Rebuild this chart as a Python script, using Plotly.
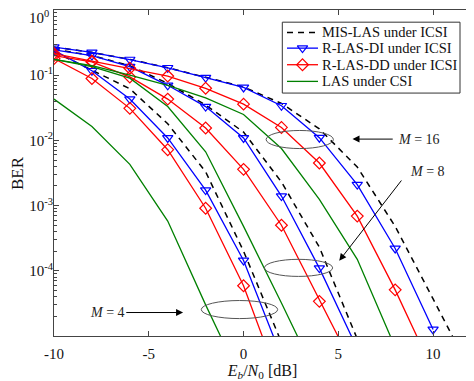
import plotly.graph_objects as go

# Eb/N0 grid (dB)
snr = [-10, -8, -6, -4, -2, 0, 2, 4, 6, 8, 10, 12]

# M = 4
mis_m4 = [0.23, 0.12, 0.062, 0.018, 3.3e-3, 2.0e-4, 8e-6]
di_m4 = [0.24, 0.117, 0.043, 0.0109, 1.73e-3, 1.44e-4, 4.8e-6]
dd_m4 = [0.18, 0.089, 0.031, 7.2e-3, 9.1e-4, 5.9e-5, 1.6e-6]
las_m4 = [0.043, 0.0163, 4.3e-3, 5.8e-4, 3.0e-5, 1.8e-6]

# M = 8
mis_m8 = [0.25, 0.2, 0.14, 0.075, 0.035, 0.0134, 2.3e-3, 2.3e-4, 9e-6]
di_m8 = [0.245, 0.2, 0.135, 0.07, 0.033, 0.0109, 1.4e-3, 1.1e-4, 6.4e-6]
dd_m8 = [0.2, 0.16, 0.094, 0.043, 0.0155, 3.6e-3, 5.0e-4, 3.4e-5, 2.6e-6]
las_m8 = [0.175, 0.135, 0.09, 0.033, 6.7e-3, 4.8e-4, 3.2e-5, 2e-6]

# M = 16
mis_m16 = [0.27, 0.224, 0.175, 0.13, 0.093, 0.066, 0.037, 0.015, 3.9e-3, 4.8e-4, 3.7e-5, 2.8e-6]
di_m16 = [0.27, 0.224, 0.174, 0.13, 0.092, 0.065, 0.034, 0.011, 2.1e-3, 2.2e-4, 1.26e-5]
dd_m16 = [0.215, 0.164, 0.128, 0.097, 0.063, 0.036, 0.0158, 4.5e-3, 6.9e-4, 5.1e-5, 2.9e-6]
las_m16 = [0.175, 0.14, 0.1, 0.07, 0.045, 0.025, 7.5e-3, 1.25e-3, 1.5e-4, 6.7e-6]

legend_names = ["MIS-LAS under ICSI", "R-LAS-DI under ICSI", "R-LAS-DD under ICSI", "LAS under CSI"]

x_ticks = [-10, -5, 0, 5, 10]
x_ticktext = ["-10", "-5", "0", "5", "10"]
y_ticks = [0.1, 0.01, 1e-3, 1e-4]
y_ticktext = ["10<sup>-1</sup>", "10<sup>-2</sup>", "10<sup>-3</sup>", "10<sup>-4</sup>"]
y_top_label = "10<sup>0</sup>"

FONT = "Liberation Serif, Times New Roman, serif"
BLUE = "#0000ff"
RED = "#ff0000"
GREEN = "#008000"
AXC = "#444444"

# page is offset by the browser's 8px body margin; plot-area frame in page pixels
OFF = 8
L, R, T, B = 54, 471, 9.5, 336
W, H = 474 - OFF, 381 - OFF

fig = go.Figure()

styles = {
    "mis": dict(mode="lines", line=dict(color="black", width=1.5, dash="6px,5px")),
    "di": dict(mode="lines+markers", line=dict(color=BLUE, width=1.3),
               marker=dict(symbol="triangle-down-open", size=9, color=BLUE, line=dict(width=1.2))),
    "dd": dict(mode="lines+markers", line=dict(color=RED, width=1.3),
               marker=dict(symbol="diamond-open", size=9, color=RED, line=dict(width=1.2))),
    "las": dict(mode="lines", line=dict(color=GREEN, width=1.3)),
}

series = [
    ("mis", [mis_m16, mis_m8, mis_m4]),
    ("di", [di_m16, di_m8, di_m4]),
    ("dd", [dd_m16, dd_m8, dd_m4]),
    ("las", [las_m16, las_m8, las_m4]),
]

for key, groups in series:
    for vals in groups:
        fig.add_trace(go.Scatter(x=snr[:len(vals)], y=vals, showlegend=False, **styles[key]))

# ---- custom legend drawn on a pixel overlay axis ----
box = dict(x0=282.3, x1=460, y0=21.7, y1=92.7)
row_y = [32, 47.7, 64.3, 81]
sample_x = [287, 318]
text_x = 319.5

fig.add_trace(go.Scatter(
    x=[box["x0"], box["x1"], box["x1"], box["x0"], box["x0"]],
    y=[box["y0"], box["y0"], box["y1"], box["y1"], box["y0"]],
    mode="lines", fill="toself", fillcolor="white", line=dict(color="#333", width=1),
    xaxis="x2", yaxis="y2", showlegend=False, hoverinfo="skip"))
for (key, _), ry in zip(series, row_y):
    st = dict(styles[key])
    st["mode"] = "lines"
    st.pop("marker", None)
    fig.add_trace(go.Scatter(x=sample_x, y=[ry, ry], xaxis="x2", yaxis="y2",
                             showlegend=False, hoverinfo="skip", **st))
    if "marker" in styles[key]:
        fig.add_trace(go.Scatter(x=[sum(sample_x) / 2], y=[ry], mode="markers",
                                 marker=styles[key]["marker"], xaxis="x2", yaxis="y2",
                                 showlegend=False, hoverinfo="skip"))
for name, ry in zip(legend_names, row_y):
    fig.add_annotation(text=name, x=text_x, y=ry, xref="x2", yref="y2", showarrow=False,
                       xanchor="left", yanchor="middle",
                       font=dict(family=FONT, size=14.5, color="#111"))

# top decade label (kept inside the page)
fig.add_annotation(text=y_top_label, xref="paper", yref="paper", x=0, y=1,
                   xanchor="right", yanchor="middle", xshift=-3, yshift=-7, showarrow=False,
                   font=dict(family=FONT, size=15, color="#111"))

# y-axis title
fig.add_annotation(text="BER", xref="paper", yref="paper", x=0, y=0.5, textangle=-90,
                   xanchor="center", yanchor="middle", xshift=-(L - 17), showarrow=False,
                   font=dict(family=FONT, size=17, color="#111"))

# ellipses grouping curves (data coordinates)
ell_color = "#555555"
ellipses = [
    dict(x0=1.19, x1=4.74, y0=7.5e-3, y1=0.0142),
    dict(x0=1.1, x1=4.7, y0=8.2e-5, y1=1.5e-4),
    dict(x0=-2.23, x1=1.8, y0=1.85e-5, y1=3.5e-5),
]
for e in ellipses:
    fig.add_shape(type="circle", xref="x", yref="y", line=dict(color=ell_color, width=1), **e)

# arrows (annotation y in log10 units)
arrows = [
    dict(x=5.75, y=-1.98, ax=41.7, ay=0),
    dict(x=5.05, y=-3.845, ax=63.3, ay=-81.7),
    dict(x=-3.19, y=-4.64, ax=-58.3, ay=0),
]
for a in arrows:
    fig.add_annotation(text="", showarrow=True, arrowhead=2, arrowsize=1.4, arrowwidth=1,
                       arrowcolor="black", xref="x", yref="y", axref="pixel", ayref="pixel", **a)

labels = [
    dict(x=9.26, y=-1.98, text="<i>M</i> = 16"),
    dict(x=9.68, y=-2.47, text="<i>M</i> = 8"),
    dict(x=-7.2, y=-4.64, text="<i>M</i> = 4"),
]
for l in labels:
    fig.add_annotation(showarrow=False, xref="x", yref="y",
                       font=dict(family=FONT, size=14, color="#222"), **l)

axis_common = dict(
    showline=True, linecolor=AXC, linewidth=1, mirror="ticks",
    ticks="inside", tickcolor=AXC, ticklen=5, showgrid=False, zeroline=False,
    automargin=False, tickfont=dict(family=FONT, size=15, color="#111"),
)

fig.update_layout(
    xaxis=dict(range=[-10, 12], tickmode="array", tickvals=x_ticks, ticktext=x_ticktext,
               ticklabelstandoff=4,
               title=dict(text="<i>E</i><sub><i>b</i></sub>/<i>N</i><sub>0</sub> [dB]",
                          font=dict(family=FONT, size=16, color="#111"), standoff=10),
               **axis_common),
    yaxis=dict(type="log", range=[-5, 0], tickmode="array", tickvals=y_ticks,
               ticktext=y_ticktext, ticklabelstandoff=-3,
               minor=dict(ticks="inside", ticklen=3, tickcolor=AXC, dtick="D1", showgrid=False),
               **axis_common),
    xaxis2=dict(range=[L, R], overlaying="x", visible=False, fixedrange=True),
    yaxis2=dict(range=[B, T], overlaying="y", visible=False, fixedrange=True),
    width=W, height=H,
    margin=dict(l=L - OFF, r=W + OFF - R, t=T - OFF, b=H + OFF - B, autoexpand=False),
    paper_bgcolor="white", plot_bgcolor="white",
    font=dict(family=FONT, color="#111"),
    showlegend=False,
)

fig.write_html("out.html")
